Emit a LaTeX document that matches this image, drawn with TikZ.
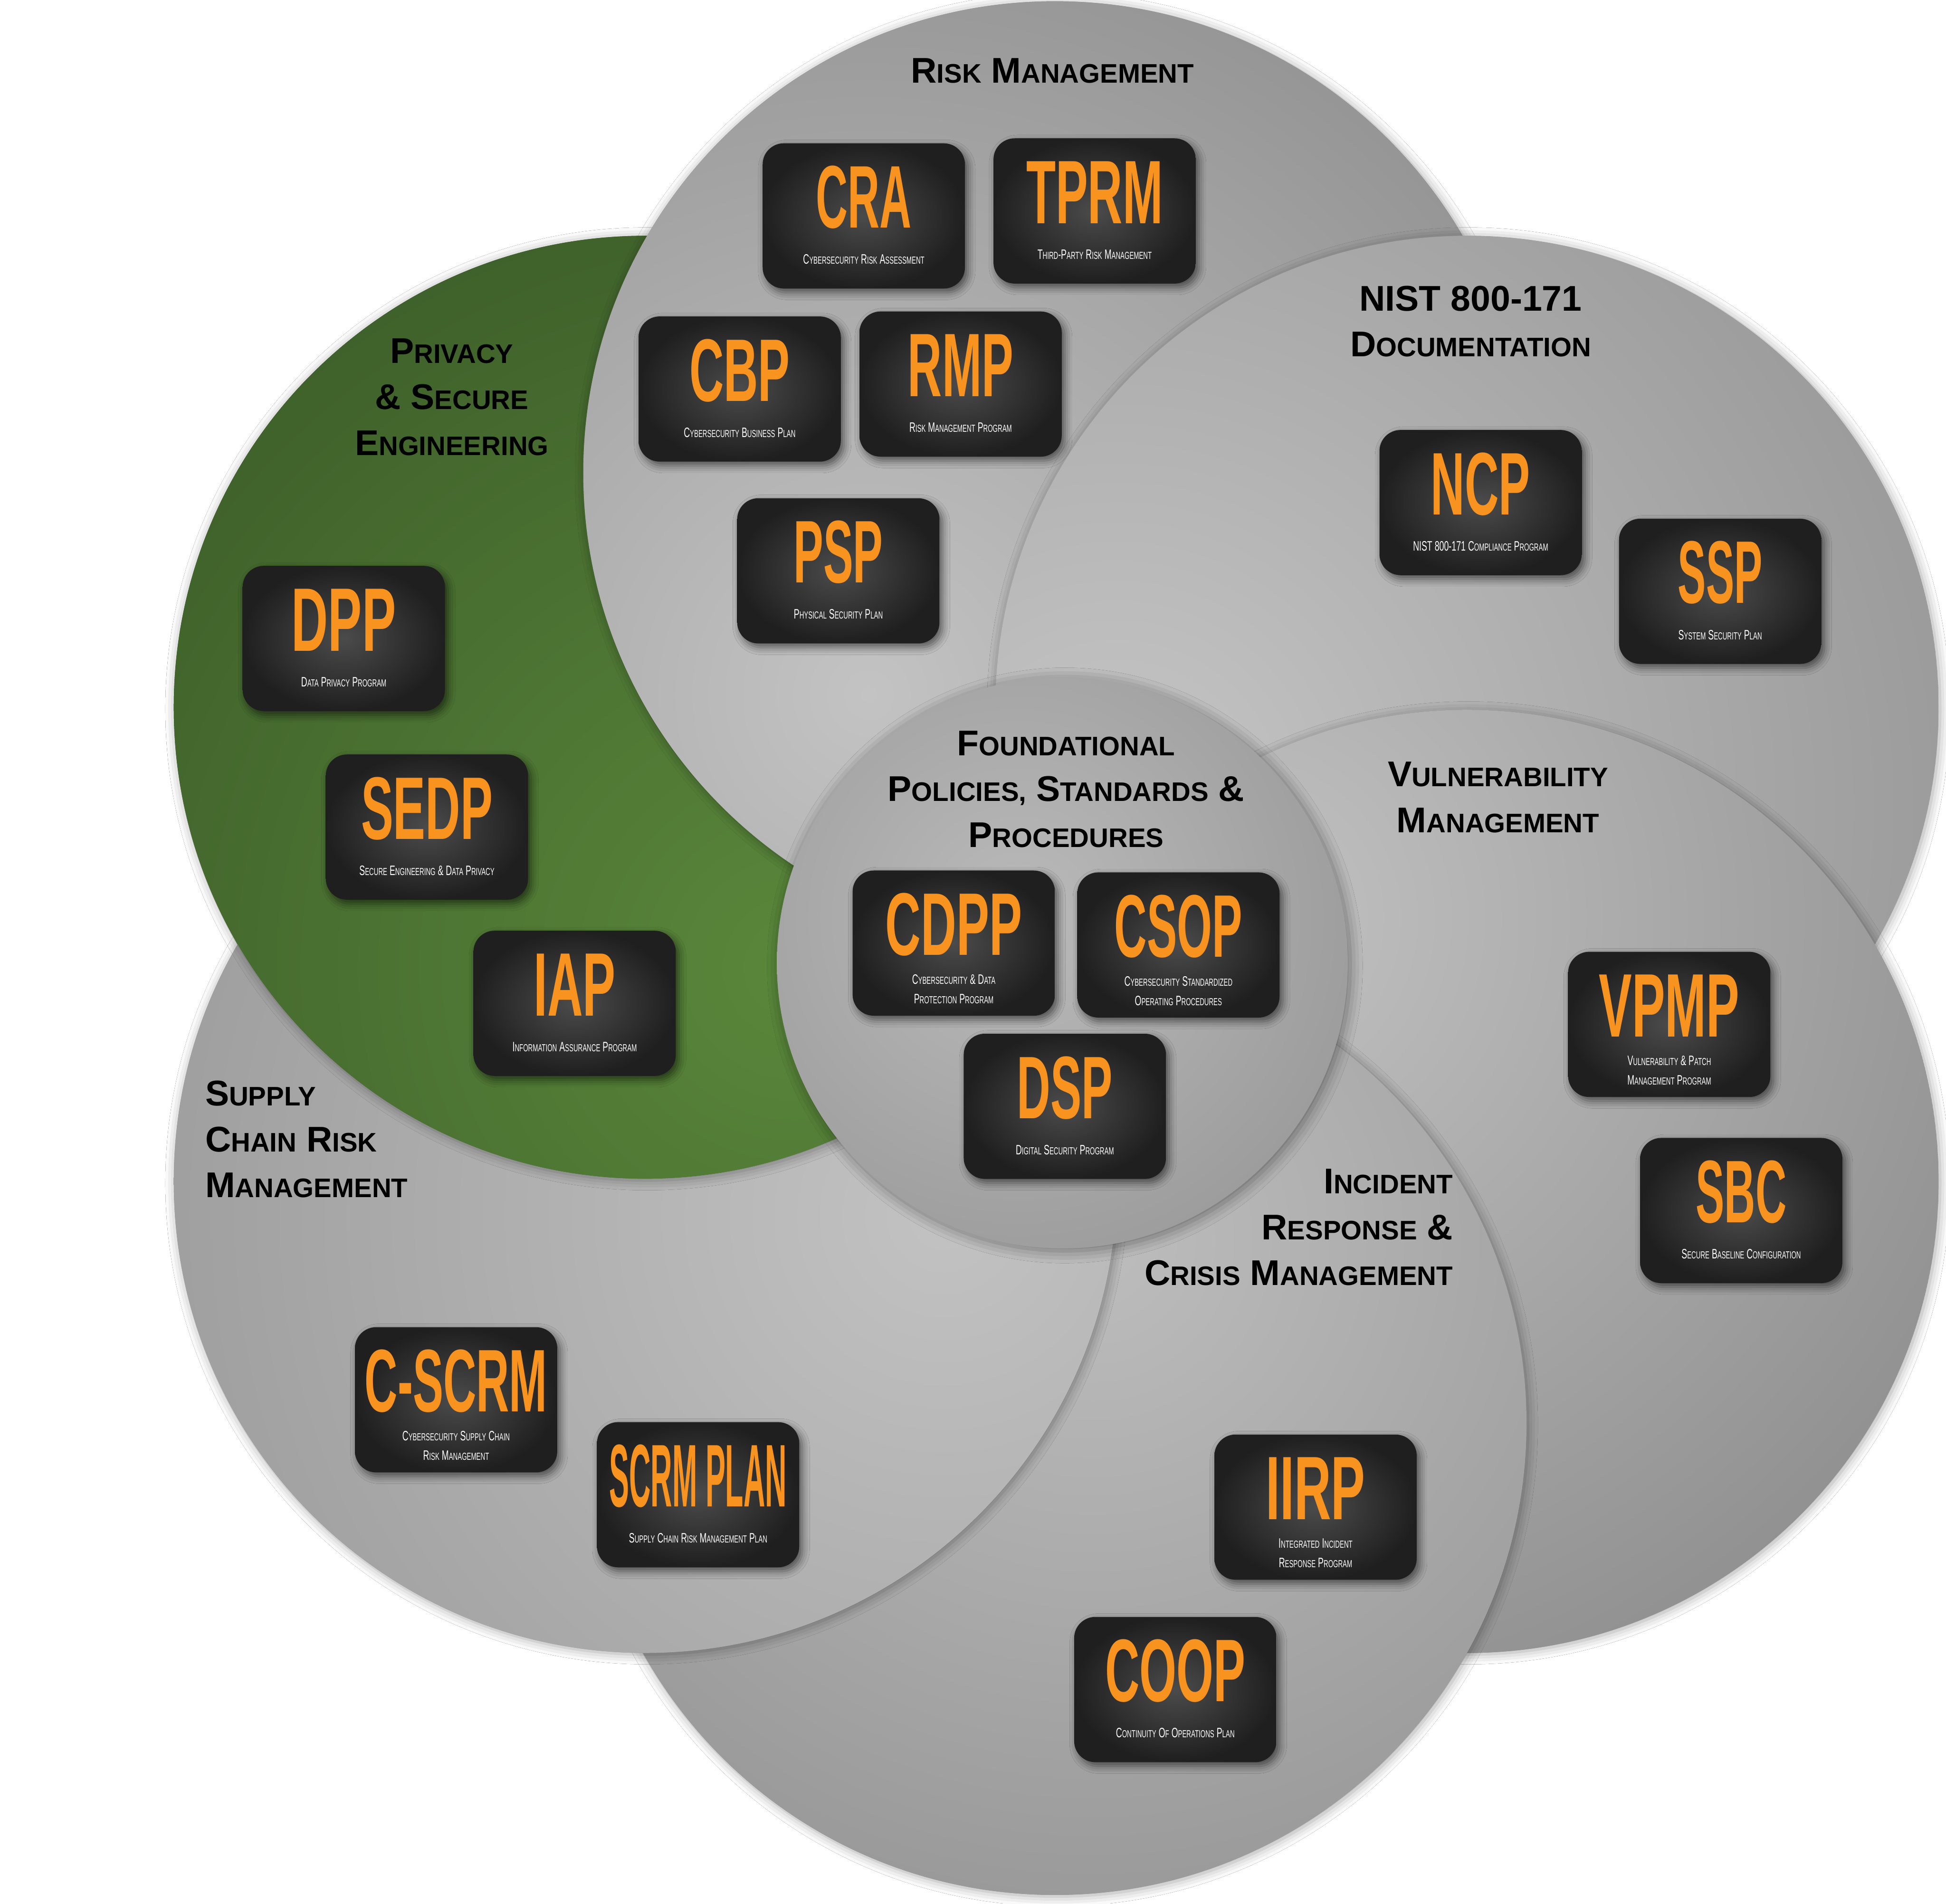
\documentclass[tikz,border=0pt]{standalone}
\usepackage{fontspec}
\setmainfont{Liberation Sans}
\usepackage{graphicx}
\usetikzlibrary{shadows.blur}
\definecolor{orng}{HTML}{F7931E}
\definecolor{boxin}{HTML}{4B4B4B}
\definecolor{boxout}{HTML}{1F1F1F}
\newcommand\sw[2]{#1\scalebox{0.75}{#2}}
\newcommand\bigname[2]{\resizebox{#2}{25pt}{\bfseries #1}}
\newcommand\subline[1]{\scalebox{0.62}[1]{#1}}
\tikzset{
  petalshadow/.style={blur shadow={shadow xshift=0.6pt, shadow yshift=-0.6pt, shadow blur radius=4pt, shadow opacity=35}},
  card/.style={rounded corners=8.5pt, minimum width=81.5pt, minimum height=58.5pt, inner sep=0pt,
    shading=radial, inner color=boxin, outer color=boxout,
    blur shadow={shadow xshift=1.2pt, shadow yshift=-1.6pt, shadow blur radius=3pt, shadow opacity=55}},
  bigtxt/.style={inner sep=0pt, text=orng},
  subtxt/.style={inner sep=0pt, text=white, font=\fontsize{5.5}{8}\selectfont},
  head/.style={inner sep=0pt, text=black, font=\fontsize{14.4}{18.5}\selectfont\bfseries},
}
\newcommand\petalbody[5]{%
  \begin{scope}
    \clip (#1) circle (380);
    \fill[#4] (#1) circle (380);
    \shade[inner color=#3, outer color=#4] (#2) circle (#5);
  \end{scope}}
\newcommand\petal[5]{%
  \path[petalshadow] (#1) circle (380);
  \petalbody{#1}{#2}{#3}{#4}{#5}}
\newcommand\card[7]{%
  \node[card] (#1) at (#2,#3) {};
  \node[bigtxt] (#1-t) at ([yshift=7.5pt]#1.center) {\bigname{#4}{#5}};
  \if\relax\detokenize{#7}\relax
    \node[subtxt] (#1-s) at ([yshift=-17.5pt]#1.center) {\subline{#6}};
  \else
    \node[subtxt] (#1-s) at ([yshift=-14.6pt]#1.center) {\subline{#6}};
    \node[subtxt] (#1-s2) at ([yshift=-22.4pt]#1.center) {\subline{#7}};
  \fi}
\definecolor{rIn}{HTML}{C3C3C3}\definecolor{rOut}{HTML}{8B8B8B}
\definecolor{nIn}{HTML}{C6C6C6}\definecolor{nOut}{HTML}{969696}
\definecolor{vIn}{HTML}{C2C2C2}\definecolor{vOut}{HTML}{878787}
\definecolor{iIn}{HTML}{BDBDBD}\definecolor{iOut}{HTML}{8F8F8F}
\definecolor{sIn}{HTML}{C2C2C2}\definecolor{sOut}{HTML}{979797}
\definecolor{gIn}{HTML}{5A873B}\definecolor{gOut}{HTML}{3B5B28}
\definecolor{cIn}{HTML}{BABABA}\definecolor{cOut}{HTML}{9D9D9D}
\begin{document}
\begin{tikzpicture}[x=0.5pt, y=-0.5pt]
\fill[white] (0,0) rectangle (1568,1534);
\useasboundingbox (0,0) rectangle (1568,1534);
% circle centres
\coordinate (cRisk) at (850,381);
\coordinate (cPriv) at (520,570);
\coordinate (cNist) at (1182,570);
\coordinate (cVuln) at (1182,952);
\coordinate (cInc)  at (850,1147);
\coordinate (cSup)  at (520,952);
\coordinate (cCen)  at (856,776);
% light points
\coordinate (lRisk) at (700,560);
\coordinate (lPriv) at (640,780);
\coordinate (lNist) at (900,650);
\coordinate (lVuln) at (1000,740);
\coordinate (lInc)  at (880,1000);
\coordinate (lSup)  at (760,980);
\coordinate (lCen)  at (820,740);
% petals (cyclic overlap)
\petal{cPriv}{lPriv}{gIn}{gOut}{720}
\petal{cRisk}{lRisk}{rIn}{rOut}{760}
\petal{cNist}{lNist}{nIn}{nOut}{760}
\petal{cVuln}{lVuln}{vIn}{vOut}{800}
% incident lies under the privacy circle
\begin{scope}[even odd rule]
  \clip (-200,-200) rectangle (1800,1800) (cPriv) circle (380);
  \petal{cInc}{lInc}{iIn}{iOut}{700}
\end{scope}
% supply lies under the privacy and risk circles
\begin{scope}[even odd rule]
  \clip (-200,-200) rectangle (1800,1800) (cPriv) circle (380);
  \clip (-200,-200) rectangle (1800,1800) (cRisk) circle (380);
  \path[petalshadow] (cSup) circle (380);
  \petalbody{cSup}{lSup}{sIn}{sOut}{780}
  \begin{scope}[nonzero rule]
    \clip (cSup) circle (380);
    \path[petalshadow] (cPriv) circle (380);
    \path[petalshadow] (cRisk) circle (380);
  \end{scope}
\end{scope}
% centre circle
\path[blur shadow={shadow xshift=1pt, shadow yshift=-1pt, shadow blur radius=5pt, shadow opacity=40}] (cCen) circle (230);
\begin{scope}
  \clip (cCen) circle (230);
  \fill[cOut] (cCen) circle (230);
  \shade[inner color=cIn, outer color=cOut] (lCen) circle (280);
\end{scope}
% headings
\node[head] (hRisk) at (848,57) {\sw{R}{ISK} \sw{M}{ANAGEMENT}};
\node[head, align=center] (hPriv) at (364,320) {\sw{P}{RIVACY}\\\& \sw{S}{ECURE}\\\sw{E}{NGINEERING}};
\node[head, align=center] (hNist) at (1185,259) {NIST 800-171\\\sw{D}{OCUMENTATION}};
\node[head, align=center] (hCen) at (859,636) {\sw{F}{OUNDATIONAL}\\\sw{P}{OLICIES,} \sw{S}{TANDARDS} \&\\\sw{P}{ROCEDURES}};
\node[head, align=center] (hVuln) at (1207,642.5) {\sw{V}{ULNERABILITY}\\\sw{M}{ANAGEMENT}};
\node[head, align=left, anchor=west] (hSup) at (165,918) {\sw{S}{UPPLY}\\\sw{C}{HAIN} \sw{R}{ISK}\\\sw{M}{ANAGEMENT}};
\node[head, align=right, anchor=east] (hInc) at (1171,989) {\sw{I}{NCIDENT}\\\sw{R}{ESPONSE} \&\\\sw{C}{RISIS} \sw{M}{ANAGEMENT}};
% cards
\card{cra}{696}{174}{CRA}{38.5pt}{\sw{C}{YBERSECURITY} \sw{R}{ISK} \sw{A}{SSESSMENT}}{}
\card{tprm}{882}{170}{TPRM}{55pt}{\sw{T}{HIRD}-\sw{P}{ARTY} \sw{R}{ISK} \sw{M}{ANAGEMENT}}{}
\card{cbp}{596}{313.5}{CBP}{40.5pt}{\sw{C}{YBERSECURITY} \sw{B}{USINESS} \sw{P}{LAN}}{}
\card{rmp}{774}{309.5}{RMP}{42.5pt}{\sw{R}{ISK} \sw{M}{ANAGEMENT} \sw{P}{ROGRAM}}{}
\card{psp}{675.5}{460}{PSP}{36pt}{\sw{P}{HYSICAL} \sw{S}{ECURITY} \sw{P}{LAN}}{}
\card{ncp}{1193}{405}{NCP}{40pt}{NIST 800-171 \sw{C}{OMPLIANCE} \sw{P}{ROGRAM}}{}
\card{ssp}{1386}{476.5}{SSP}{34pt}{\sw{S}{YSTEM} \sw{S}{ECURITY} \sw{P}{LAN}}{}
\card{dpp}{277}{514.5}{DPP}{42pt}{\sw{D}{ATA} \sw{P}{RIVACY} \sw{P}{ROGRAM}}{}
\card{sedp}{344}{666.5}{SEDP}{53pt}{\sw{S}{ECURE} \sw{E}{NGINEERING} \& \sw{D}{ATA} \sw{P}{RIVACY}}{}
\card{iap}{463}{808.5}{IAP}{33pt}{\sw{I}{NFORMATION} \sw{A}{SSURANCE} \sw{P}{ROGRAM}}{}
\card{cdpp}{768.5}{760}{CDPP}{55pt}{\sw{C}{YBERSECURITY} \& \sw{D}{ATA}}{\sw{P}{ROTECTION} \sw{P}{ROGRAM}}
\card{csop}{949.5}{761.5}{CSOP}{51.5pt}{\sw{C}{YBERSECURITY} \sw{S}{TANDARDIZED}}{\sw{O}{PERATING} \sw{P}{ROCEDURES}}
\card{dsp}{858}{891.5}{DSP}{38.5pt}{\sw{D}{IGITAL} \sw{S}{ECURITY} \sw{P}{ROGRAM}}{}
\card{vpmp}{1345}{825.5}{VPMP}{56.5pt}{\sw{V}{ULNERABILITY} \& \sw{P}{ATCH}}{\sw{M}{ANAGEMENT} \sw{P}{ROGRAM}}
\card{sbc}{1403}{975.5}{SBC}{36.5pt}{\sw{S}{ECURE} \sw{B}{ASELINE} \sw{C}{ONFIGURATION}}{}
\card{cscrm}{367.5}{1128}{C-SCRM}{73.5pt}{\sw{C}{YBERSECURITY} \sw{S}{UPPLY} \sw{C}{HAIN}}{\sw{R}{ISK} \sw{M}{ANAGEMENT}}
\card{scrmp}{562.5}{1204.5}{SCRM PLAN}{71.5pt}{\sw{S}{UPPLY} \sw{C}{HAIN} \sw{R}{ISK} \sw{M}{ANAGEMENT} \sw{P}{LAN}}{}
\card{iirp}{1060}{1214.5}{IIRP}{40pt}{\sw{I}{NTEGRATED} \sw{I}{NCIDENT}}{\sw{R}{ESPONSE} \sw{P}{ROGRAM}}
\card{coop}{947}{1361.5}{COOP}{56.5pt}{\sw{C}{ONTINUITY} \sw{O}{F} \sw{O}{PERATIONS} \sw{P}{LAN}}{}
\end{tikzpicture}
\end{document}
